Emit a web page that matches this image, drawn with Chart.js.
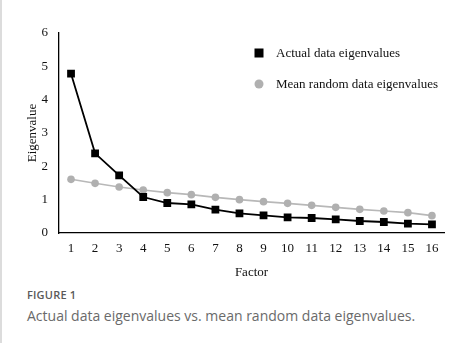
<!DOCTYPE html>
<html>
<head>
<meta charset="utf-8">
<script src="https://cdn.jsdelivr.net/npm/chart.js@4.4.1/dist/chart.umd.min.js"></script>
<style>
  html, body { margin: 0; padding: 0; background: #fff; }
  body { width: 474px; height: 348px; position: relative; overflow: hidden; }
  #frame { position: absolute; left: 0; top: 0; width: 2px; height: 343px; background: #dcdcdc; }
  #wrap { position: absolute; left: 0; top: 0; width: 474px; height: 280px; }
  #fig { position: absolute; left: 27px; top: 287px; font-family: "Open Sans", sans-serif; font-size: 11px; font-weight: 600; color: #5a5a5a; letter-spacing: 0.2px; }
  #cap { position: absolute; left: 27px; top: 306px; font-family: "Open Sans", sans-serif; font-size: 14px; color: #6a6a6a; white-space: nowrap; }
</style>
</head>
<body>
<div id="frame"></div>
<div id="wrap"><canvas id="c" width="474" height="280"></canvas></div>
<div id="fig">FIGURE 1</div>
<div id="cap">Actual data eigenvalues vs. mean random data eigenvalues.</div>
<script>
const factors = ["1","2","3","4","5","6","7","8","9","10","11","12","13","14","15","16"];
const actualEigen = [4.78, 2.39, 1.73, 1.08, 0.90, 0.86, 0.70, 0.59, 0.53, 0.47, 0.45, 0.41, 0.36, 0.33, 0.28, 0.26];
const randomEigen = [1.61, 1.49, 1.38, 1.29, 1.21, 1.15, 1.07, 1.00, 0.94, 0.89, 0.83, 0.77, 0.71, 0.66, 0.61, 0.52];
const yTicks = [0, 1, 2, 3, 4, 5, 6];
const seriesNames = ["Actual data eigenvalues", "Mean random data eigenvalues"];

const SERIF = "'Liberation Serif', 'Times New Roman', serif";

const legendPlugin = {
  id: 'customLegend',
  afterDraw(chart) {
    const ctx = chart.ctx;
    const items = [
      { ds: chart.data.datasets[0], y: 53 },
      { ds: chart.data.datasets[1], y: 84 }
    ];
    ctx.save();
    ctx.font = "13px " + SERIF;
    ctx.textBaseline = 'middle';
    ctx.textAlign = 'left';
    items.forEach(it => {
      ctx.fillStyle = it.ds.pointBackgroundColor;
      if (it.ds.pointStyle === 'rect') {
        ctx.fillRect(254.5, it.y - 4.5, 9, 9);
      } else {
        ctx.beginPath();
        ctx.arc(259, it.y, 4.5, 0, Math.PI * 2);
        ctx.fill();
      }
      ctx.fillStyle = '#111';
      ctx.fillText(it.ds.label, 276, it.y + 0.5);
    });
    ctx.restore();
  }
};

new Chart(document.getElementById('c'), {
  type: 'line',
  data: {
    labels: factors,
    datasets: [
      {
        label: seriesNames[0],
        data: actualEigen,
        borderColor: '#000',
        backgroundColor: '#000',
        pointBackgroundColor: '#000',
        pointBorderColor: '#000',
        pointStyle: 'rect',
        pointRadius: 5.5,
        pointBorderWidth: 0,
        borderWidth: 1.8,
        tension: 0,
        order: 1
      },
      {
        label: seriesNames[1],
        data: randomEigen,
        borderColor: '#b8b8b8',
        backgroundColor: '#b0b0b0',
        pointBackgroundColor: '#b0b0b0',
        pointBorderColor: '#b0b0b0',
        pointStyle: 'circle',
        pointRadius: 3.8,
        pointBorderWidth: 0,
        borderWidth: 1.6,
        tension: 0,
        order: 2
      }
    ]
  },
  options: {
    responsive: false,
    animation: false,
    events: [],
    layout: { padding: { left: 20, top: 33, right: 30, bottom: 0 } },
    plugins: { legend: { display: false }, tooltip: { enabled: false } },
    scales: {
      x: {
        offset: true,
        grid: { display: false, drawTicks: false },
        border: { display: true, color: '#000', width: 1.3 },
        ticks: { color: '#111', font: { family: SERIF, size: 13 }, padding: 8, maxRotation: 0, autoSkip: false },
        title: { display: true, text: 'Factor', color: '#111', font: { family: SERIF, size: 13 }, padding: { top: 5, bottom: 0 } },
        afterFit(s) { s.height = 47; }
      },
      y: {
        min: 0, max: 6,
        afterBuildTicks(s) { s.ticks = yTicks.map(v => ({ value: v })); },
        grid: { display: false, drawTicks: false },
        border: { display: true, color: '#000', width: 1.3 },
        ticks: { color: '#111', font: { family: SERIF, size: 13 }, padding: 11 },
        title: { display: true, text: 'Eigenvalue', color: '#111', font: { family: SERIF, size: 13 }, padding: { top: 5, bottom: 0 } },
        afterFit(s) { s.width = 39; }
      }
    }
  },
  plugins: [legendPlugin]
});
</script>
</body>
</html>
